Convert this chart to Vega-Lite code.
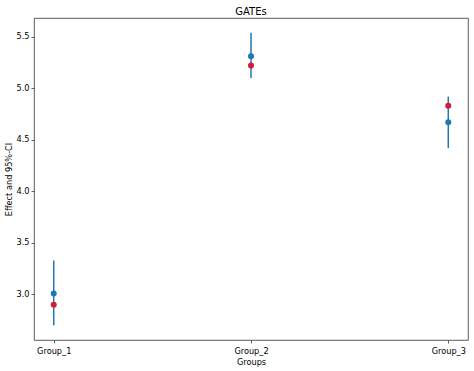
{
  "$schema": "https://vega.github.io/schema/vega-lite/v6.json",
  "width": 434,
  "height": 322,
  "autosize": {"type": "none"},
  "padding": {"left": 34, "top": 18, "right": 6, "bottom": 31},
  "background": "white",
  "title": {"text": "GATEs", "fontSize": 10, "font": "DejaVu Sans", "fontWeight": "normal", "color": "#000", "offset": 1.5},
  "data": {"values": [
    {"group": "Group_1", "est": 3.01, "lo": 2.70, "hi": 3.33, "truth": 2.90},
    {"group": "Group_2", "est": 5.31, "lo": 5.10, "hi": 5.54, "truth": 5.22},
    {"group": "Group_3", "est": 4.67, "lo": 4.42, "hi": 4.92, "truth": 4.83}
  ]},
  "config": {
    "view": {"stroke": "#333", "strokeWidth": 0.8},
    "axis": {
      "labelFont": "DejaVu Sans", "labelFontSize": 8.2, "labelColor": "#000",
      "titleFont": "DejaVu Sans", "titleFontSize": 8.2, "titleFontWeight": "normal", "titleColor": "#000",
      "tickColor": "#333", "tickSize": 3, "labelPadding": 2, "domain": false, "grid": false, "tickWidth": 0.8
    }
  },
  "encoding": {
    "x": {"field": "group", "type": "ordinal", "scale": {"type": "point", "padding": 0.1},
          "axis": {"title": "Groups", "labelAngle": 0, "labelPadding": 4, "titlePadding": 4}}
  },
  "layer": [
    {
      "mark": {"type": "rule", "color": "#1f77b4", "strokeWidth": 1.5},
      "encoding": {
        "y": {"field": "lo", "type": "quantitative", "scale": {"domain": [2.558, 5.682], "nice": false, "zero": false},
              "axis": {"title": "Effect and 95%-CI", "values": [3.0, 3.5, 4.0, 4.5, 5.0, 5.5], "format": ".1f", "titlePadding": 2}},
        "y2": {"field": "hi"}
      }
    },
    {
      "mark": {"type": "point", "filled": true, "opacity": 1, "color": "#1f77b4", "size": 36},
      "encoding": {"y": {"field": "est", "type": "quantitative"}}
    },
    {
      "mark": {"type": "point", "filled": true, "opacity": 1, "color": "#d41c36", "size": 36},
      "encoding": {"y": {"field": "truth", "type": "quantitative"}}
    }
  ]
}
